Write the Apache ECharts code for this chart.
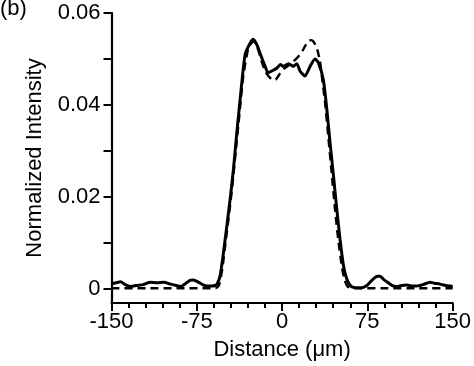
<!DOCTYPE html>
<html>
<head>
<meta charset="utf-8">
<script src="https://cdn.jsdelivr.net/npm/echarts@6/dist/echarts.min.js"></script>
<style>
html,body{margin:0;padding:0;background:#fff;}
#chart{width:474px;height:366px;}
</style>
</head>
<body>
<div id="chart"></div>
<script>
// Measured (solid) profile
var solidX = [-150,-146,-142,-138,-133,-128,-122,-116,-110,-104,-98,-93,-89,-85,-81,-78,-74,-70,-66,-62,-59,-57,-54.5,-51.5,-48.6,-45.7,-42.8,-39.8,-36.9,-32.5,-28,-25.2,-22,-19.3,-14.9,-12.3,-9,-4.7,-1.5,1.2,5.6,10,12.9,15.8,20.2,24.6,29,31.9,36.3,39.3,42.2,45.2,48.1,51,54,56.9,60,62.7,67,71.5,74.5,77.3,81,84,86.1,89,93.4,97,100.8,105,109.6,114,118.4,124,130.1,134,138.8,144,150];
var solidY = [0.0012,0.0014,0.0016,0.0010,0.0006,0.0008,0.0010,0.0015,0.0014,0.0015,0.0011,0.0008,0.0006,0.0012,0.0019,0.0020,0.0016,0.0010,0.0007,0.0007,0.0008,0.0012,0.0029,0.0080,0.0137,0.0195,0.0260,0.0340,0.0412,0.0510,0.0535,0.0543,0.0530,0.0512,0.0484,0.0470,0.0474,0.0480,0.0488,0.0484,0.0490,0.0484,0.0490,0.0474,0.0463,0.0484,0.0500,0.0492,0.0455,0.0392,0.0318,0.0246,0.0174,0.0108,0.0051,0.0022,0.0008,0.0004,0.0003,0.0004,0.0008,0.0015,0.0024,0.0028,0.0028,0.0022,0.0014,0.0008,0.0006,0.0008,0.0009,0.0007,0.0007,0.0010,0.0015,0.0013,0.0011,0.0008,0.0006];
// Calculated (dashed) profile
var dashX = [-150,-120,-90,-70,-60,-57,-55,-52.5,-49.5,-46.5,-43.5,-40.5,-37.5,-34,-30,-27,-24.6,-21,-18,-14.9,-12,-9,-6,-2,1.2,5,10,13,15.8,18,20.2,22,24,26,27.5,29.5,31,33.4,35,37.8,40.5,43.5,46.5,49.5,52.5,55,57.5,62,70,90,120,150];
var dashY = [0.0002,0.0002,0.0002,0.0002,0.0002,0.0004,0.0012,0.0045,0.0105,0.0165,0.0230,0.0305,0.0380,0.0465,0.0520,0.0535,0.0538,0.0520,0.0495,0.0474,0.0463,0.0456,0.0455,0.0468,0.0478,0.0485,0.0495,0.0502,0.0510,0.0518,0.0528,0.0535,0.0540,0.0541,0.0538,0.0530,0.0520,0.0495,0.0462,0.0405,0.0335,0.0255,0.0175,0.0105,0.0050,0.0020,0.0006,0.0002,0.0002,0.0002,0.0002,0.0002];
var yLabelValues = [0,0.02,0.04,0.06];
var yTickValues = [0,0.01,0.02,0.03,0.04,0.05,0.06];
var xTitle = 'Distance (\u03bcm)';
var yTitle = 'Normalized Intensity';
var panelLabel = '(b)';

function pairs(xs, ys){ return xs.map(function(x,i){ return [x, ys[i]]; }); }

var FONT = '"Liberation Sans", Arial, sans-serif';
var chart = echarts.init(document.getElementById('chart'), null, {renderer:'canvas'});
chart.setOption({
  animation:false,
  backgroundColor:'#fff',
  textStyle:{fontFamily:FONT},
  grid:{left:111.5, right:21, top:13, bottom:62, containLabel:false},
  graphic:[{type:'text', left:0, top:-2, style:{text:panelLabel, font:'22px '+FONT, fill:'#000'}}],
  xAxis:{
    type:'value', min:-150, max:150, interval:75,
    name:xTitle, nameLocation:'middle', nameGap:36,
    nameTextStyle:{fontSize:22, color:'#000', fontFamily:FONT},
    axisLine:{onZero:false, lineStyle:{color:'#000', width:2.2}},
    axisTick:{length:8, lineStyle:{color:'#000', width:2}},
    minorTick:{show:true, splitNumber:5, length:5, lineStyle:{color:'#000', width:2}},
    axisLabel:{fontSize:22, color:'#000', margin:8, fontFamily:FONT},
    splitLine:{show:false}
  },
  yAxis:{
    type:'value', min:-0.003, max:0.06,
    name:yTitle, nameLocation:'middle', nameGap:66,
    nameTextStyle:{fontSize:22, color:'#000', fontFamily:FONT},
    axisLine:{onZero:false, lineStyle:{color:'#000', width:2.2}},
    axisTick:{length:8, customValues:yTickValues, lineStyle:{color:'#000', width:2}},
    axisLabel:{fontSize:22, color:'#000', margin:11, fontFamily:FONT, customValues:yLabelValues,
      formatter:function(v){ return v===0 ? '0' : v.toFixed(2); }},
    splitLine:{show:false}
  },
  series:[
    {type:'line', data:pairs(solidX, solidY), showSymbol:false, smooth:0.2,
     lineStyle:{color:'#000', width:3}},
    {type:'line', data:pairs(dashX, dashY), showSymbol:false, smooth:0.2,
     lineStyle:{color:'#000', width:2.4, type:[8,5]}}
  ]
});
</script>
</body>
</html>
